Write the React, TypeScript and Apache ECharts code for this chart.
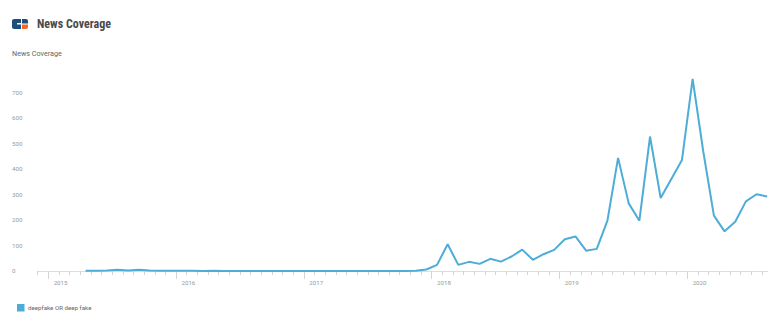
import React, { useEffect, useRef } from "react";
import * as echarts from "echarts";

// Monthly categories, Dec 2014 .. Aug 2020
const years = [2015, 2016, 2017, 2018, 2019, 2020];
const months: string[] = ["2014-12"];
for (const y of years) {
  for (let m = 1; m <= 12; m++) {
    if (y === 2020 && m > 8) break;
    months.push(`${y}-${String(m).padStart(2, "0")}`);
  }
}

const seriesName = "deepfake OR deep fake";

// values per month (null = no data)
const v2014 = [null];
const v2015 = [null, null, null, 1, 1, 2, 5, 2, 5, 2, 1, 1];
const v2016 = [1, 1, 0, 1, 0, 0, 0, 0, 0, 0, 0, 0];
const v2017 = [0, 0, 0, 0, 0, 0, 0, 0, 0, 0, 1, 6];
const v2018 = [24, 105, 24, 36, 28, 48, 37, 57, 84, 44, 66, 83];
const v2019 = [125, 136, 80, 87, 198, 445, 266, 198, 529, 287, 362, 437];
const v2020 = [756, 470, 218, 156, 194, 274, 302, 293];
const values: (number | null)[] = [
  ...v2014,
  ...v2015,
  ...v2016,
  ...v2017,
  ...v2018,
  ...v2019,
  ...v2020,
];

const yTicks = [0, 100, 200, 300, 400, 500, 600, 700];

const LINE = "#4dadd6";

export default function App() {
  const ref = useRef<HTMLDivElement>(null);
  useEffect(() => {
    if (!ref.current) return;
    const chart = echarts.init(ref.current, undefined, { renderer: "svg" });
    const isJan = (i: number) => months[i] && months[i].endsWith("-01");
    chart.setOption({
      animation: false,
      backgroundColor: "#fff",
      textStyle: { fontFamily: "Roboto" },
      graphic: [
        { type: "rect", shape: { x: 12, y: 19, width: 9, height: 10, r: [2, 0, 0, 2] }, style: { fill: "#1d4f7c" } },
        { type: "rect", shape: { x: 22, y: 19, width: 6, height: 4.5, r: [0, 2, 0, 0] }, style: { fill: "#1d4f7c" } },
        { type: "rect", shape: { x: 22, y: 24.5, width: 6, height: 4.5, r: [0, 0, 2, 0] }, style: { fill: "#ee6a2c" } },
        { type: "rect", shape: { x: 17, y: 23, width: 5, height: 1.5 }, style: { fill: "#fff" } },
        {
          type: "text",
          x: 37,
          y: 24,
          style: {
            text: "News Coverage",
            font: "bold 12px 'Liberation Sans Narrow', 'Roboto Condensed', Roboto",
            fill: "#4a4a4a",
            verticalAlign: "middle",
          },
        },
        {
          type: "text",
          x: 12,
          y: 53.5,
          style: {
            text: "News Coverage",
            font: "normal 7.2px Roboto",
            fill: "#666",
            verticalAlign: "middle",
          },
        },
      ],
      legend: {
        left: 12,
        top: 299,
        icon: "rect",
        itemWidth: 7.5,
        itemHeight: 7.5,
        textStyle: { fontSize: 6.2, color: "#666", fontFamily: "Roboto", padding: [0, 0, 0, -1.5] },
        data: [seriesName],
      },
      grid: { left: 37.65, top: 78.8, width: 734.85, bottom: 53, containLabel: false },
      xAxis: [
        {
          type: "category",
          data: months,
          boundaryGap: true,
          axisLine: { show: true, lineStyle: { color: "#ddd", width: 1 } },
          axisTick: { show: true, interval: 0, length: 4, lineStyle: { color: "#d4d4d4" } },
          axisLabel: { show: false },
          splitLine: { show: false },
        },
        {
          type: "category",
          data: months,
          boundaryGap: true,
          position: "bottom",
          axisLine: { show: false },
          axisTick: {
            show: true,
            interval: (i: number) => !!isJan(i),
            length: 8,
            lineStyle: { color: "#d4d4d4" },
          },
          axisLabel: {
            show: true,
            interval: (i: number) => !!isJan(i),
            formatter: (v: string) => v.slice(0, 4),
            align: "left",
            margin: 9,
            fontSize: 6.2,
            color: "#9a9a9a",
            fontFamily: "Roboto",
          },
          splitLine: { show: false },
        },
      ],
      yAxis: {
        type: "value",
        min: 0,
        max: "dataMax",
        interval: 100,
        axisLine: { show: false },
        axisTick: { show: false },
        splitLine: { show: false },
        axisLabel: {
          showMaxLabel: false,
          align: "left",
          margin: 25.65,
          fontSize: 6.2,
          color: "#9a9a9a",
          fontFamily: "Roboto",
          verticalAlign: "middle",
          padding: [0, 0, 6, 0],
          formatter: (v: number) => (yTicks.includes(v) ? String(v) : ""),
        },
      },
      series: [
        {
          name: seriesName,
          type: "line",
          xAxisIndex: 0,
          data: values,
          showSymbol: false,
          symbol: "none",
          connectNulls: false,
          lineStyle: { color: LINE, width: 2 },
          itemStyle: { color: LINE },
        },
      ],
    });
    return () => chart.dispose();
  }, []);
  return (
    <div style={{ position: "absolute", left: 0, top: 0, width: 768, height: 324, overflow: "hidden", background: "#fff" }}>
      <div ref={ref} style={{ width: 780, height: 324 }} />
    </div>
  );
}
